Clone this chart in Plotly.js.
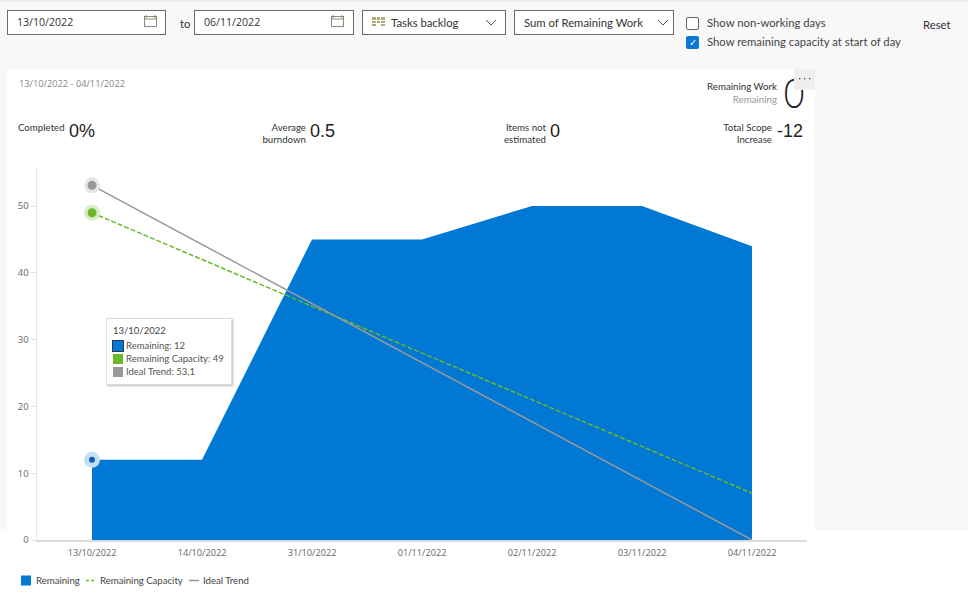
<!DOCTYPE html>
<html><head><meta charset="utf-8">
<script src="https://cdn.plot.ly/plotly-3.0.1.min.js"></script>
<style>
html,body{margin:0;padding:0;width:968px;height:606px;overflow:hidden;background:#fff;font-family:Lato,sans-serif;color:#333}
.abs{position:absolute;white-space:nowrap}
#top{left:0;top:0;width:968px;height:531px;background:#f8f8f8;border-top:2px solid #eaeaea;box-sizing:border-box}
#panel{left:7px;top:69px;width:808px;height:462px;background:#fff}
#chart{left:0;top:0;width:968px;height:606px}
.box{border:1px solid #6b6b6b;background:#fff;box-sizing:border-box;height:25px;top:10px;font-size:11.3px;line-height:23px;color:#333;padding-left:9px}
.num{font-family:"Open Sans",sans-serif;font-size:10.6px}
.lab{font-size:9.7px;line-height:12px;text-align:right;color:#333}
.big{font-size:18px;color:#222;line-height:22px;font-family:"Liberation Sans",sans-serif}
.cb{left:686px;width:13px;height:13px;border-radius:2px;box-sizing:border-box}
#tip{left:106px;top:318px;width:126px;height:67px;background:#fff;border:1px solid #ddd;box-shadow:1px 1px 2px #bbb;box-sizing:border-box}
.sw{position:absolute;left:6px;width:10px;height:10px}
.tl{position:absolute;left:19px;font-size:9.5px;color:#555;white-space:nowrap;line-height:12px}
</style></head><body>
<div id="top" class="abs"></div>
<div id="panel" class="abs"></div>
<div class="abs box num" style="left:7px;width:159px">13/10/2022</div>
<div class="abs box num" style="left:194px;width:160px">06/11/2022</div>
<div class="abs" style="left:180px;top:17px;font-size:11.3px">to</div>
<div class="abs box" style="left:362px;width:144px;padding-left:28px">Tasks backlog</div>
<div class="abs box" style="left:514px;width:160px">Sum of Remaining Work</div>
<svg class="abs" style="left:0;top:0" width="968" height="60" fill="none">
<g stroke="#8a8a7a"><rect x="144.5" y="16.5" width="12" height="10"/><rect x="331.5" y="16.5" width="12" height="10"/><path d="M146 15v3M155 15v3M333 15v3M342 15v3M145 19h11M332 19h11"/></g>
<g fill="#b3a878"><rect x="372" y="17" width="4" height="3"/><rect x="377" y="17" width="3" height="3"/><rect x="381" y="17" width="4" height="3"/><rect x="372" y="21" width="4" height="2"/><rect x="377" y="21" width="3" height="2"/><rect x="381" y="21" width="4" height="2"/><rect x="372" y="24" width="4" height="2"/><rect x="381" y="24" width="4" height="2"/></g>
<path d="M486 20l5 5 5-5M658 20l5 5 5-5" stroke="#555"/>
</svg>
<div class="abs cb" style="top:17px;border:1px solid #666;background:#fff"></div>
<div class="abs cb" style="top:36px;background:#0a78d4;color:#fff;font-size:10px;line-height:12px;text-align:center">✓</div>
<div class="abs" style="left:707px;top:16px;font-size:11.3px;color:#444">Show non-working days</div>
<div class="abs" style="left:707px;top:35px;font-size:11.3px;color:#444">Show remaining capacity at start of day</div>
<div class="abs" style="left:923px;top:18px;font-size:11.3px;color:#3a2a3a">Reset</div>
<div class="abs" style="left:19px;top:77px;font-size:9.25px;color:#888;font-family:'Open Sans',sans-serif">13/10/2022 - 04/11/2022</div>
<div class="abs lab" style="right:191px;top:80px">Remaining Work</div>
<div class="abs lab" style="right:191px;top:93px;color:#999">Remaining</div>
<div class="abs" style="left:782px;top:68px;width:24px;text-align:center;font-size:42px;line-height:48px;color:#223;font-weight:300;transform:scaleX(.85)">0</div>
<svg class="abs" style="left:794px;top:69px" width="21" height="21"><rect width="21" height="21" fill="#efefef"/><g fill="#444"><rect x="5" y="9" width="1.3" height="1.3"/><rect x="10" y="9" width="1.3" height="1.3"/><rect x="15" y="9" width="1.3" height="1.3"/></g></svg>
<div class="abs lab" style="left:18px;top:121px">Completed</div><div class="abs big" style="left:69px;top:120px">0%</div>
<div class="abs lab" style="right:662px;top:121px">Average</div><div class="abs lab" style="right:662px;top:133px">burndown</div><div class="abs big" style="left:310px;top:120px">0.5</div>
<div class="abs lab" style="right:422px;top:121px">Items not</div><div class="abs lab" style="right:422px;top:133px">estimated</div><div class="abs big" style="left:550px;top:120px">0</div>
<div class="abs lab" style="right:196px;top:121px">Total Scope</div><div class="abs lab" style="right:196px;top:133px">Increase</div><div class="abs big" style="left:777px;top:120px">-12</div>
<div id="chart" class="abs"></div>
<div id="tip" class="abs">
<div class="tl" style="left:6px;top:6px;color:#444">13/10/2022</div>
<div class="sw" style="top:22px;background:#0078d4;outline:1px solid #335"></div><div class="tl" style="top:21px">Remaining: 12</div>
<div class="sw" style="top:35px;background:#6bb82a"></div><div class="tl" style="top:34px">Remaining Capacity: 49</div>
<div class="sw" style="top:48px;background:#999"></div><div class="tl" style="top:47px">Ideal Trend: 53,1</div>
</div>
<script>
const categories=["13/10/2022","14/10/2022","31/10/2022","01/11/2022","02/11/2022","03/11/2022","04/11/2022"];
const remaining=[12,12,45,45,50,50,44];
const capacity=[49,42,35,28,21,14,7];
const ideal=[53.1,44.25,35.4,26.55,17.7,8.85,0];
const seriesNames=["Remaining","Remaining Capacity","Ideal Trend"];
const BLUE="#0078d4",GREEN="#6bb82a",GREY="#999999";
const dot=(x,y,c,s)=>({x:[x],y:[y],type:"scatter",mode:"markers",showlegend:false,hoverinfo:"skip",cliponaxis:false,marker:{size:s,color:c,line:{width:0}}});
const data=[
 {x:categories,y:remaining,name:seriesNames[0],type:"scatter",mode:"lines",fill:"tozeroy",fillcolor:BLUE,line:{color:BLUE,width:0}},
 {x:categories,y:capacity,name:seriesNames[1],type:"scatter",mode:"lines",line:{color:GREEN,width:1.5,dash:"5px,2px"}},
 {x:categories,y:ideal,name:seriesNames[2],type:"scatter",mode:"lines",line:{color:GREY,width:1.5}},
 dot(categories[0],remaining[0],"#c3def5",16),dot(categories[0],remaining[0],"#0b62b5",6),
 dot(categories[0],capacity[0],"#d8edc8",16),dot(categories[0],capacity[0],GREEN,9),
 dot(categories[0],ideal[0],"#e6e6e6",16),dot(categories[0],ideal[0],GREY,9)
];
const W=968,H=606;
const seg=(x0,x1,c,w,d)=>({type:"line",xref:"paper",yref:"paper",x0:(x0-37)/770,x1:(x1-37)/770,y0:(540-580.5)/372,y1:(540-580.5)/372,line:{color:c,width:w,dash:d}});
const lab=(x,t)=>({xref:"paper",yref:"paper",x:(x-37)/770,y:(540-580.5)/372,xanchor:"left",yanchor:"middle",text:t,showarrow:false,font:{family:"Lato,sans-serif",size:9.6,color:"#444"},borderpad:0,xshift:-1});
const layout={width:W,height:H,margin:{l:37,r:161,t:168,b:66},paper_bgcolor:"rgba(0,0,0,0)",plot_bgcolor:"rgba(0,0,0,0)",
 font:{family:'"Open Sans",sans-serif',size:9.2,color:"#666"},showlegend:false,
 xaxis:{type:"category",range:[-0.5,6.5],showgrid:false,zeroline:false,showline:true,linecolor:"#dcdcdc",linewidth:1.5,ticks:"",tickfont:{size:9.2,color:"#666"},ticklabelstandoff:3,fixedrange:true},
 yaxis:{range:[0,55.7],tickvals:[0,10,20,30,40,50],showgrid:false,zeroline:false,showline:true,linecolor:"#e6e6e6",linewidth:1.5,ticks:"outside",ticklen:5,tickcolor:"#e0e0e0",tickfont:{size:9.5,color:"#666"},fixedrange:true},
 shapes:[
  {type:"rect",xref:"paper",yref:"paper",x0:(21-37)/770,x1:(31-37)/770,y0:(540-575.5)/372,y1:(540-585.5)/372,fillcolor:BLUE,line:{width:0}},
  seg(86,96,GREEN,1.5,"3px,2px"),seg(189,199,GREY,1.5,"solid")],
 annotations:[lab(36,seriesNames[0]),lab(100,seriesNames[1]),lab(203,seriesNames[2])]};
Plotly.newPlot("chart",data,layout,{displayModeBar:false,staticPlot:true});
</script></body></html>
